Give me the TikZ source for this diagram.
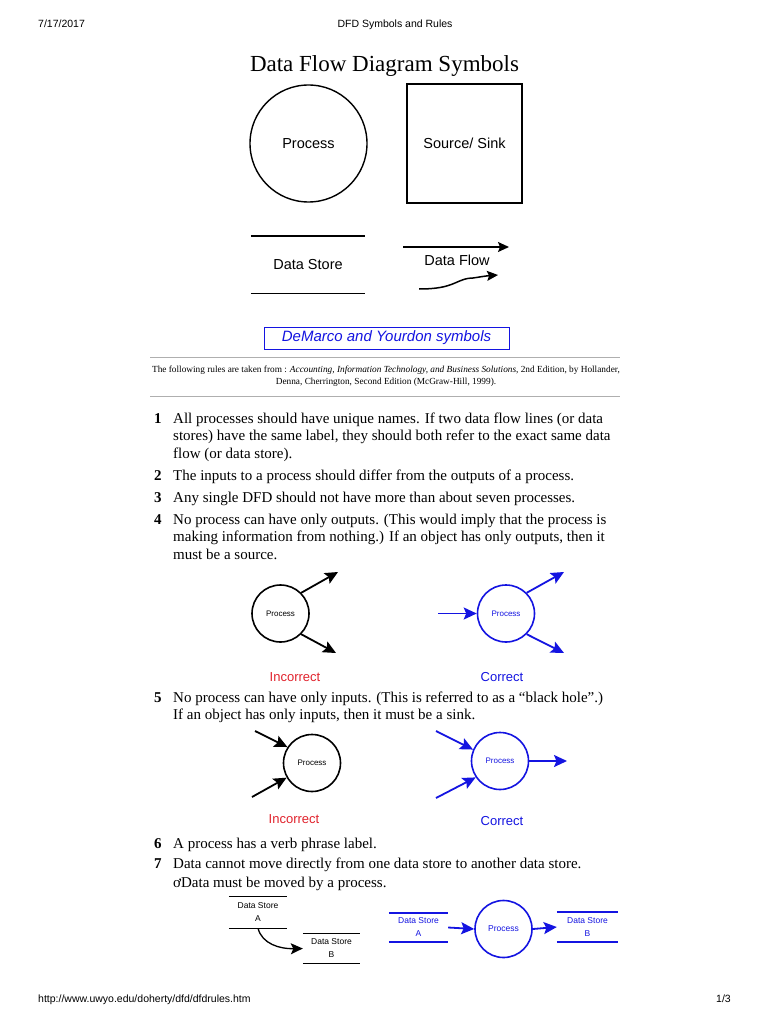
\documentclass[tikz,border=0pt]{standalone}
\usepackage{fontspec}
\setmainfont{Liberation Serif}
\setsansfont{Liberation Sans}
\usetikzlibrary{arrows.meta}
\definecolor{dfdblue}{RGB}{20,20,225}
\definecolor{dfdred}{RGB}{225,35,45}
\definecolor{rulegray}{RGB}{175,175,175}
\tikzset{
  hdr/.style={font=\sffamily\fontsize{10.5}{12}\selectfont, inner sep=0pt},
  lbl/.style={font=\sffamily\fontsize{14.5}{16}\selectfont, inner sep=0pt},
  storetxt/.style={font=\sffamily\fontsize{8.5}{13}\selectfont, align=center, inner sep=0pt},
  proc/.style={draw, circle, line width=1.6pt, minimum size=57pt, inner sep=0pt, font=\sffamily\fontsize{8}{9}\selectfont},
  flow/.style={line width=1.8pt, -{Stealth[length=13pt,width=12pt,inset=2.5pt]}},
  num/.style={font=\bfseries\fontsize{15}{17.5}\selectfont, anchor=base west, inner sep=0pt},
  ruletxt/.style={font=\fontsize{15}{17.5}\selectfont, anchor=base west, align=left, inner sep=0pt},
  verdict/.style={font=\sffamily\fontsize{13}{15}\selectfont, inner sep=0pt},
}
\begin{document}
\begin{tikzpicture}[x=1pt,y=-1pt]
\fill[white] (0,0) rectangle (768,1024);
\useasboundingbox (0,0) rectangle (768,1024);

\node[hdr, anchor=base west] (date) at (38,28) {7/17/2017};
\node[hdr, anchor=base] (pagetitle) at (395,28) {DFD Symbols and Rules};

\node[font=\fontsize{23}{26}\selectfont, anchor=base, inner sep=0pt] (title) at (384.5,72) {Data Flow Diagram Symbols};

\node[draw, circle, line width=1.4pt, minimum size=117pt, lbl] (proc) at (308.5,143.5) {Process};
\node[draw, line width=1.4pt, minimum width=115pt, minimum height=119pt, lbl] (sink) at (464.5,143.5) {Source/ Sink};
\node[lbl, minimum width=114pt, minimum height=57pt] (store) at (308,264.5) {Data Store};
\draw[line width=1.4pt] (store.north west) -- (store.north east);
\draw[line width=1.4pt] (store.south west) -- (store.south east);

\coordinate (flowA) at (403,247);
\coordinate (flowB) at (509,247);
\draw[line width=1.5pt, -{Stealth[length=11pt,width=10pt,inset=2pt]}] (flowA) -- (flowB);
\node[lbl] (flowlbl) at (457,260) {Data Flow};
\coordinate (wavyA) at (419,289);
\coordinate (wavyB) at (498,275);
\draw[line width=1.5pt, -{Stealth[length=11pt,width=10pt,inset=2pt]}] (wavyA) .. controls (436,289) and (446,287) .. (455,283) .. controls (462,280) and (466,278) .. (473,278) .. controls (480,277) and (485,276) .. (wavyB);

\node[draw=dfdblue, line width=0.8pt, text=dfdblue, font=\sffamily\itshape\fontsize{15}{17}\selectfont, minimum width=245pt, minimum height=22pt, inner sep=0pt] (demarco) at (386.5,338) {DeMarco and Yourdon symbols};

\coordinate (hr1a) at (150,357);
\coordinate (hr1b) at (620,357);
\draw[rulegray, line width=1pt] (hr1a) -- (hr1b);
\node[font=\fontsize{9.3}{12}\selectfont, align=center, anchor=base, inner sep=0pt] (source) at (386,384) {The following rules are taken from : \textit{Accounting, Information Technology, and Business Solutions}, 2nd Edition, by Hollander,\\Denna, Cherrington, Second Edition (McGraw-Hill, 1999).};
\coordinate (hr2a) at (150,396);
\coordinate (hr2b) at (620,396);
\draw[rulegray, line width=1pt] (hr2a) -- (hr2b);

\node[num] (n1) at (154,423) {1};
\node[ruletxt] (r1) at (173,458) {All processes should have unique names. If two data flow lines (or data\\stores) have the same label, they should both refer to the exact same data\\flow (or data store).};
\node[num] (n2) at (154,480) {2};
\node[ruletxt] (r2) at (173,480) {The inputs to a process should differ from the outputs of a process.};
\node[num] (n3) at (154,502) {3};
\node[ruletxt] (r3) at (173,502) {Any single DFD should not have more than about seven processes.};
\node[num] (n4) at (154,524) {4};
\node[ruletxt] (r4) at (173,559) {No process can have only outputs. (This would imply that the process is\\making information from nothing.) If an object has only outputs, then it\\must be a source.};

\node[proc] (p4bad) at (280.5,613.5) {Process};
\coordinate (o4a) at (338,572);
\coordinate (o4b) at (336,653);
\draw[flow] (p4bad.45) -- (o4a);
\draw[flow] (p4bad.-45) -- (o4b);
\node[verdict, text=dfdred] (bad4) at (295,677) {Incorrect};
\node[proc, dfdblue] (p4good) at (506,613.5) {Process};
\coordinate (i4) at (438,613.5);
\coordinate (o4c) at (564,572);
\coordinate (o4d) at (564,653);
\draw[flow, dfdblue] (i4) -- (p4good.west);
\draw[flow, dfdblue] (p4good.45) -- (o4c);
\draw[flow, dfdblue] (p4good.-45) -- (o4d);
\node[verdict, text=dfdblue] (good4) at (502,677) {Correct};

\node[num] (n5) at (154,702) {5};
\node[ruletxt] (r5) at (173,719.5) {No process can have only inputs. (This is referred to as a “black hole”.)\\If an object has only inputs, then it must be a sink.};

\node[proc] (p5bad) at (312,763) {Process};
\coordinate (i5a) at (255,731);
\coordinate (i5b) at (252,797);
\draw[flow] (i5a) -- (p5bad.147);
\draw[flow] (i5b) -- (p5bad.210);
\node[verdict, text=dfdred] (bad5) at (294,819) {Incorrect};
\node[proc, dfdblue] (p5good) at (500,761) {Process};
\coordinate (i5c) at (436,731);
\coordinate (i5d) at (436,798);
\coordinate (o5) at (567,761);
\draw[flow, dfdblue] (i5c) -- (p5good.157);
\draw[flow, dfdblue] (i5d) -- (p5good.214);
\draw[flow, dfdblue] (p5good.east) -- (o5);
\node[verdict, text=dfdblue] (good5) at (502,821) {Correct};

\node[num] (n6) at (154,848) {6};
\node[ruletxt] (r6) at (173,848) {A process has a verb phrase label.};
\node[num] (n7) at (154,868) {7};
\node[ruletxt] (r7) at (173,887) {Data cannot move directly from one data store to another data store.\\[1.5pt]ơData must be moved by a process.};

\node[storetxt, minimum width=58pt, minimum height=31pt] (dsA) at (258,912.5) {Data Store\\A};
\draw[line width=1pt] (dsA.north west) -- (dsA.north east);
\draw[line width=1pt] (dsA.south west) -- (dsA.south east);
\node[storetxt, minimum width=57pt, minimum height=29pt] (dsB) at (331.5,948.5) {Data Store\\B};
\draw[line width=1pt] (dsB.north west) -- (dsB.north east);
\draw[line width=1pt] (dsB.south west) -- (dsB.south east);
\draw[line width=1.3pt, -{Stealth[length=12pt,width=11pt,inset=2.5pt]}] (dsA.south) .. controls (262,944) and (280,949) .. (dsB.west);

\node[storetxt, dfdblue, minimum width=59pt, minimum height=29pt] (dsA2) at (418.5,927.5) {Data Store\\A};
\draw[dfdblue, line width=1.6pt] (dsA2.north west) -- (dsA2.north east);
\draw[dfdblue, line width=1.6pt] (dsA2.south west) -- (dsA2.south east);
\node[proc, dfdblue, font=\sffamily\fontsize{8.5}{9}\selectfont] (p7) at (503.5,929) {Process};
\node[storetxt, dfdblue, minimum width=61pt, minimum height=30pt] (dsB2) at (587.5,927) {Data Store\\B};
\draw[dfdblue, line width=1.6pt] (dsB2.north west) -- (dsB2.north east);
\draw[dfdblue, line width=1.6pt] (dsB2.south west) -- (dsB2.south east);
\draw[flow, dfdblue] (dsA2.east) -- (p7.west);
\draw[flow, dfdblue] (p7.east) -- (dsB2.west);

\node[hdr, anchor=base west] (url) at (38,1002) {http://www.uwyo.edu/doherty/dfd/dfdrules.htm};
\node[hdr, anchor=base east] (pageno) at (731,1002) {1/3};
\end{tikzpicture}
\end{document}
